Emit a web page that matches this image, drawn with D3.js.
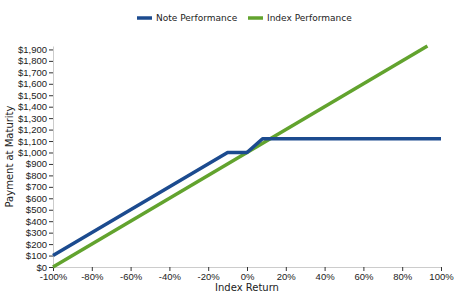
<!DOCTYPE html>
<html><head><meta charset="utf-8">
<script src="https://cdn.jsdelivr.net/npm/d3@7"></script>
<style>body{margin:0;background:#fff}svg{display:block;font-family:"DejaVu Sans",sans-serif}</style>
</head><body><svg id="c" width="474" height="299"></svg>
<script>
const seriesNames = ["Note Performance", "Index Performance"];
const seriesColors = ["#1c4b8f", "#62a32e"];
const noteReturns = [-100, -10, 0, 8, 100];
const noteValues = [100, 1000, 1000, 1120, 1120];
const indexReturns = [-100, 93];
const indexValues = [0, 1930];
const xTicks = [-100, -80, -60, -40, -20, 0, 20, 40, 60, 80, 100];
const yTicks = d3.range(0, 2000, 100);

const svg = d3.select("#c");
const m = {l: 53, r: 33, t: 46, b: 32};
const W = 474, H = 299;
const x = d3.scaleLinear().domain([-100, 100]).range([m.l, W - m.r]);
const y = d3.scaleLinear().domain([0, 1930]).range([H - m.b, m.t]);

const fmt = d3.format(",");
const gx = svg.append("g").attr("transform", `translate(0,${H - m.b})`)
  .call(d3.axisBottom(x).tickValues(xTicks).tickSize(4).tickSizeOuter(0).tickFormat(d => d + "%"));
const gy = svg.append("g").attr("transform", `translate(${m.l},0)`)
  .call(d3.axisLeft(y).tickValues(yTicks).tickSize(4).tickSizeOuter(0).tickFormat(d => "$" + fmt(d)));
[gx, gy].forEach(g => {
  g.select(".domain").attr("stroke", "#ccc");
  g.selectAll(".tick line").attr("stroke", "#333");
  g.selectAll(".tick text").attr("fill", "#222").style("font-size", "9.5px");
});
gx.selectAll(".tick text").attr("y", 6).attr("dy", "0.75em");
gy.selectAll(".tick text").attr("x", -6);

svg.append("text").attr("x", (m.l + W - m.r) / 2).attr("y", H - 8).attr("text-anchor", "middle")
  .style("font-size", "10px").attr("fill", "#222").text("Index Return");
svg.append("text").attr("transform", `translate(13,${(m.t + H - m.b) / 2}) rotate(-90)`)
  .attr("text-anchor", "middle").style("font-size", "10px").attr("fill", "#222").text("Payment at Maturity");

const line = d3.line().x(d => x(d[0])).y(d => y(d[1]));
const data = [d3.zip(noteReturns, noteValues), d3.zip(indexReturns, indexValues)];
[1, 0].forEach(i => {
  svg.append("path").datum(data[i]).attr("d", line).attr("fill", "none")
    .attr("stroke", seriesColors[i]).attr("stroke-width", 3.5).attr("stroke-linejoin", "round");
});

const legX = [137, 248];
seriesNames.forEach((n, i) => {
  const g = svg.append("g").attr("transform", `translate(${legX[i]},18)`);
  g.append("line").attr("x1", 0).attr("x2", 15).attr("stroke", seriesColors[i]).attr("stroke-width", 3.5);
  g.append("text").attr("x", 19).attr("dy", "0.35em").style("font-size", "9px").attr("fill", "#222").text(n);
});
</script></body></html>
